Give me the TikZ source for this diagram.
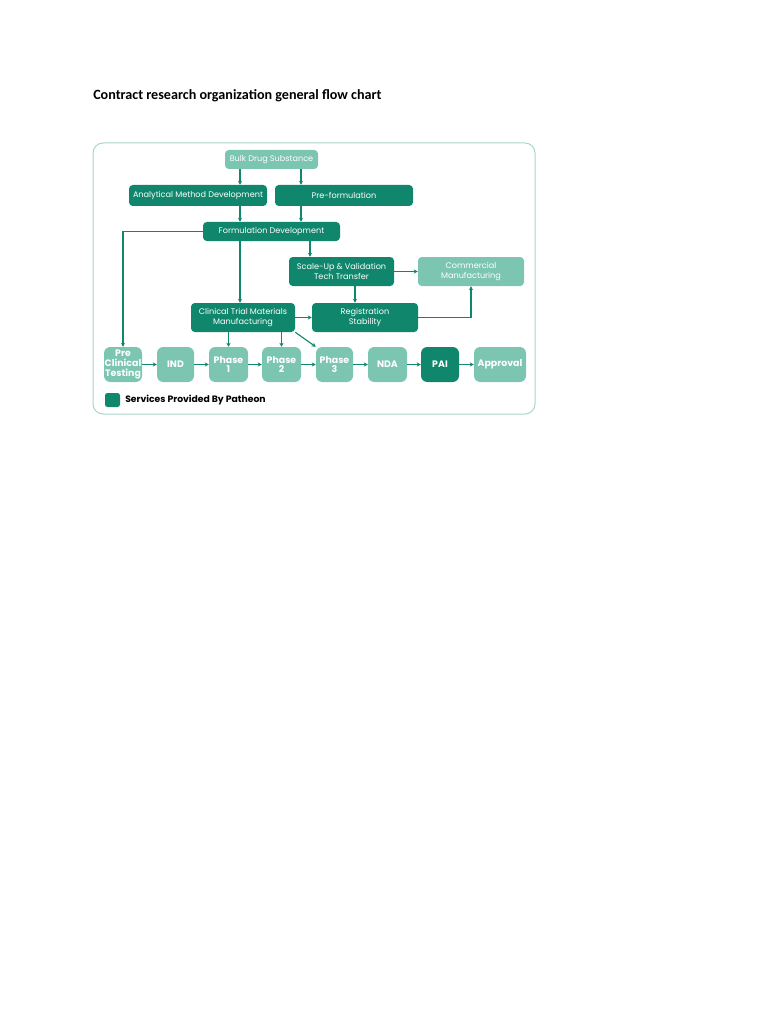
\documentclass[tikz,border=0pt]{standalone}
\usepackage{fontspec}
\setmainfont{Carlito}
\newfontfamily\boxfont{Poppins}
\usetikzlibrary{arrows.meta}
\definecolor{patheon}{RGB}{16,135,108}
\definecolor{patheonlight}{RGB}{124,197,176}
\definecolor{framecol}{RGB}{168,214,203}
\tikzset{
  dark/.style={fill=patheon,text=white,rounded corners=3pt,inner sep=0pt,align=center,
    font=\boxfont\fontsize{6.5}{8.4}\selectfont},
  light/.style={dark,fill=patheonlight},
  stage/.style={light,rounded corners=5pt,minimum height=28pt,
    font=\boxfont\bfseries\fontsize{7.5}{7.7}\selectfont},
  arr/.style={patheon,line width=0.9pt,-{Stealth[length=3.2pt,width=3.4pt]}}
}
\begin{document}
\begin{tikzpicture}[x=0.8pt,y=-0.8pt]
\useasboundingbox (0,0) rectangle (768,1024);
\node[anchor=base west,inner sep=0pt,font=\bfseries\fontsize{11.3}{13}\selectfont] (title) at (93,100)
  {Contract research organization general flow chart};
\draw[framecol,line width=0.8pt,rounded corners=8pt] (93,143) rectangle (535,414);

\node[light,minimum width=74.4pt,minimum height=15.2pt] (bulk) at (271.5,159.5) {Bulk Drug Substance};
\node[dark,minimum width=110.4pt,minimum height=16.8pt] (amd) at (198,195.5) {Analytical Method Development};
\node[dark,minimum width=110.4pt,minimum height=16.8pt] (pref) at (344,195.5) {Pre-formulation};
\node[dark,minimum width=109.6pt,minimum height=15.2pt] (formdev) at (271.5,231.5) {Formulation Development};
\node[dark,minimum width=84pt,minimum height=23.2pt] (scaleup) at (341.5,271.5) {Scale-Up \& Validation\\Tech Transfer};
\node[light,minimum width=84.8pt,minimum height=23.2pt] (commman) at (471,271.5) {Commercial\\Manufacturing};
\node[dark,minimum width=83.2pt,minimum height=23.2pt] (ctm) at (243,317.5) {Clinical Trial Materials\\Manufacturing};
\node[dark,minimum width=84.8pt,minimum height=23.2pt] (regstab) at (365,317.5) {Registration\\Stability};

\node[stage,minimum width=30.4pt] (pct) at (123,364.5) {Pre\\Clinical\\Testing};
\node[stage,minimum width=29.6pt] (ind) at (175.5,364.5) {IND};
\node[stage,minimum width=31.2pt] (p1) at (228.5,364.5) {Phase\\1};
\node[stage,minimum width=31.2pt] (p2) at (281.5,364.5) {Phase\\2};
\node[stage,minimum width=29.6pt] (p3) at (334.5,364.5) {Phase\\3};
\node[stage,minimum width=31.2pt] (nda) at (387.5,364.5) {NDA};
\node[stage,fill=patheon,minimum width=30.4pt] (pai) at (440,364.5) {PAI};
\node[stage,minimum width=41.6pt] (app) at (500,364.5) {Approval};

\node[fill=patheon,rounded corners=2pt,minimum width=12pt,minimum height=11.2pt,inner sep=0pt] (key) at (112.5,400) {};
\node[anchor=west,inner sep=0pt,font=\boxfont\bfseries\fontsize{7.4}{8}\selectfont] (keytext) at (125,400) {Services Provided By Patheon};

\coordinate (c1) at (240,0);
\coordinate (c2) at (301,0);
\coordinate (c3) at (310,0);
\coordinate (c4) at (355,0);

\draw[arr] (bulk.south -| c1) -- (amd.north -| c1);
\draw[arr] (bulk.south -| c2) -- (pref.north -| c2);
\draw[arr] (amd.south -| c1) -- (formdev.north -| c1);
\draw[arr] (pref.south -| c2) -- (formdev.north -| c2);
\draw[arr] (formdev.south -| c3) -- (scaleup.north -| c3);
\draw[arr] (formdev.south -| c1) -- (ctm.north -| c1);
\draw[arr] (formdev.west) -| (pct.north);
\draw[arr] (scaleup) -- (commman);
\draw[arr] (scaleup.south -| c4) -- (regstab.north -| c4);
\draw[arr] (ctm) -- (regstab);
\draw[arr] (regstab.east) -| (commman.south);
\draw[arr] (ctm.south -| p1.north) -- (p1.north);
\draw[arr] (ctm.south -| p2.north) -- (p2.north);
\draw[arr] (ctm.south east) -- (p3.north west);
\foreach \a/\b in {pct/ind,ind/p1,p1/p2,p2/p3,p3/nda,nda/pai,pai/app}
  \draw[arr] (\a) -- (\b);
\end{tikzpicture}
\end{document}
